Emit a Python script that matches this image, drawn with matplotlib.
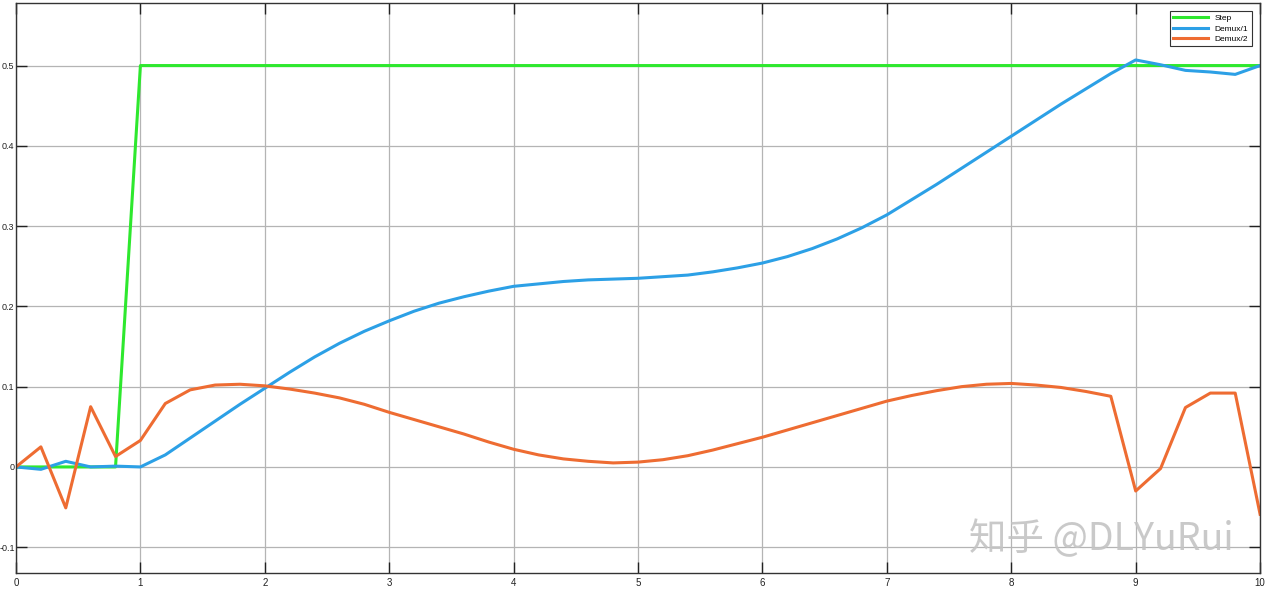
import numpy as np
import matplotlib
matplotlib.use('Agg')
import matplotlib.pyplot as plt

# tempo de simulação (passo de 0.2 s)
t = np.round(np.arange(0, 10.01, 0.2), 1)

step = [0, 0, 0, 0, 0,
        0.5, 0.5, 0.5, 0.5, 0.5, 0.5, 0.5, 0.5, 0.5, 0.5, 0.5,
        0.5, 0.5, 0.5, 0.5, 0.5, 0.5, 0.5, 0.5, 0.5, 0.5,
        0.5, 0.5, 0.5, 0.5, 0.5, 0.5, 0.5, 0.5, 0.5, 0.5,
        0.5, 0.5, 0.5, 0.5, 0.5, 0.5, 0.5, 0.5, 0.5, 0.5,
        0.5, 0.5, 0.5, 0.5, 0.5]

demux1 = [0.0, -0.003, 0.007, 0.0, 0.001,
          0.0, 0.015, 0.036, 0.057, 0.078,
          0.098, 0.118, 0.137, 0.154, 0.169,
          0.182, 0.194, 0.204, 0.212, 0.219,
          0.225, 0.228, 0.231, 0.233, 0.234,
          0.235, 0.237, 0.239, 0.243, 0.248,
          0.254, 0.262, 0.272, 0.284, 0.298,
          0.314, 0.333, 0.352, 0.372, 0.392,
          0.412, 0.432, 0.452, 0.471, 0.490,
          0.507, 0.501, 0.494, 0.492, 0.489,
          0.500]

demux2 = [0.0, 0.025, -0.051, 0.075, 0.013,
          0.033, 0.079, 0.096, 0.102, 0.103,
          0.101, 0.097, 0.092, 0.086, 0.078,
          0.068, 0.059, 0.050, 0.041, 0.031,
          0.022, 0.015, 0.010, 0.007, 0.005,
          0.006, 0.009, 0.014, 0.021, 0.029,
          0.037, 0.046, 0.055, 0.064, 0.073,
          0.082, 0.089, 0.095, 0.100, 0.103,
          0.104, 0.102, 0.099, 0.094, 0.088,
          -0.030, -0.002, 0.074, 0.092, 0.092,
          -0.059]

xticks = list(range(0, 11))
yticks = [-0.1, 0, 0.1, 0.2, 0.3, 0.4, 0.5]
ylabels = ['-0.1', '0', '0.1', '0.2', '0.3', '0.4', '0.5']

plt.rcParams['font.family'] = ['Liberation Sans', 'DejaVu Sans']

fig = plt.figure(figsize=(12.7, 5.9), dpi=100)
ax = fig.add_axes([0.0126, 0.029, 0.9796, 0.966])

ax.plot(t, step, color='#2ee82e', lw=2.2, label='Step')
ax.plot(t, demux1, color='#2ca0e6', lw=2.2, label='Demux/1')
ax.plot(t, demux2, color='#ee6c32', lw=2.2, label='Demux/2')

ax.set_xlim(0, 10)
ax.set_ylim(-0.132, 0.578)
ax.set_xticks(xticks)
ax.set_yticks(yticks)
ax.set_yticklabels(ylabels)
ax.grid(True, color='#b4b4b4', lw=0.9)
ax.tick_params(direction='in', length=8, width=1, labelsize=6.5,
               top=True, right=True, colors='#222222')
ax.tick_params(axis='y', pad=1)
ax.tick_params(axis='x', pad=4, labelsize=7)
for s in ax.spines.values():
    s.set_color('#333333')
    s.set_linewidth(1)

leg = ax.legend(loc='upper right', fontsize=6, fancybox=False,
                edgecolor='#333333', framealpha=1, handlelength=4.2,
                borderpad=0.4, labelspacing=0.3, bbox_to_anchor=(0.9965, 0.993))
leg.get_frame().set_linewidth(0.8)

# marca d'água
fig.text(0.763, 0.068, '知乎 @DLYuRui', fontsize=27, color='#c4c4c4',
         family=['Noto Sans CJK SC', 'DejaVu Sans'], alpha=0.9)

fig.savefig('out.png', dpi=100)
